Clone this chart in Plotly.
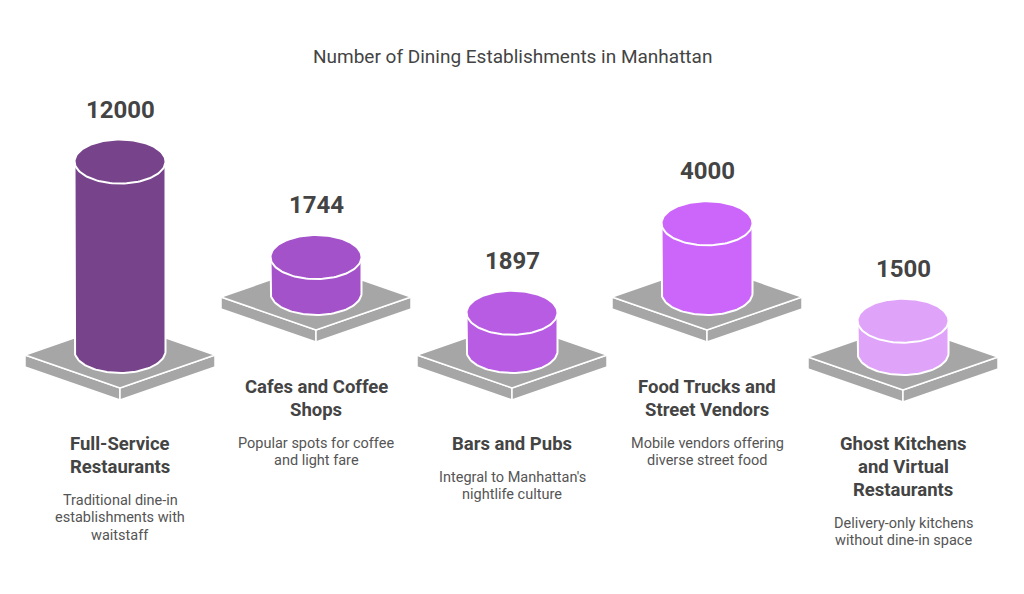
import numpy as np
import plotly.graph_objects as go

# ---------------- data ----------------
categories = ["Full-Service<br>Restaurants", "Cafes and Coffee<br>Shops", "Bars and Pubs",
              "Food Trucks and<br>Street Vendors", "Ghost Kitchens<br>and Virtual<br>Restaurants"]
values = [12000, 1744, 1897, 4000, 1500]
descriptions = ["Traditional dine-in<br>establishments with<br>waitstaff",
                "Popular spots for coffee<br>and light fare",
                "Integral to Manhattan's<br>nightlife culture",
                "Mobile vendors offering<br>diverse street food",
                "Delivery-only kitchens<br>without dine-in space"]
title_text = "Number of Dining Establishments in Manhattan"

# ---------------- style / layout ----------------
colors = ["#77448B", "#A452C9", "#B85CE3", "#CC66FA", "#E0A3FA"]
col_x = [120, 316, 512, 707, 903]          # column centers (px)
plat_y = [355, 297, 355, 297, 357]         # platform centers (px, from top)
name_first_y = [444, 387, 444, 387, 444]   # first line of category name (px)
NAME_LH, DESC_LH, DESC_GAP = 23, 17.5, 33
W, H, T = 95, 33, 12                       # platform half width, half height, thickness
RX, RY = 45.5, 22                          # cylinder ellipse radii (px)
PX_PER_UNIT = 0.01497                      # vertical scale: px per establishment
U = 1 / PX_PER_UNIT                        # units per px
STUB = 9.85 * U                            # minimum cylinder height
WIDTH, HEIGHT = 1024, 594
GRAY = "#A6A6A6"
TEXT = "#444444"
FONT = "Roboto"


def Y(px):
    """convert a layout pixel row to y-axis units"""
    return (HEIGHT - px) * U


fig = go.Figure()


def poly(xs, ys, fill, lw=1.5):
    fig.add_trace(go.Scatter(x=list(xs) + [xs[0]], y=list(ys) + [ys[0]], mode="lines",
                             fill="toself", fillcolor=fill,
                             line=dict(color="white", width=lw),
                             hoverinfo="skip", showlegend=False))


def text_line(x, py, txt, size, color, bold=False):
    fig.add_annotation(x=x, y=1 - py / HEIGHT, xref="x", yref="paper",
                       text=f"<b>{txt}</b>" if bold else txt, showarrow=False,
                       yanchor="middle", xanchor="center",
                       font=dict(family=FONT, size=size, color=color))


for i, v in enumerate(values):
    cx, pc = col_x[i], plat_y[i]
    # platform side faces
    poly([cx - W, cx, cx, cx - W], [Y(pc), Y(pc + H), Y(pc + H + T), Y(pc + T)], GRAY)
    poly([cx, cx + W, cx + W, cx], [Y(pc + H), Y(pc), Y(pc + T), Y(pc + H + T)], GRAY)
    # platform top face
    poly([cx - W, cx, cx + W, cx], [Y(pc), Y(pc + H), Y(pc), Y(pc - H)], GRAY)

    # cylinder
    base = Y(pc - 4)
    top = base + STUB + v
    ry = RY * U
    t = np.linspace(np.pi, 0, 60)
    xs = [cx - RX] + list(cx + RX * np.cos(t)) + [cx + RX]
    ys = [top] + list(base - ry * np.sin(t)) + [top]
    poly(xs, ys, colors[i], 2)
    tt = np.linspace(0, 2 * np.pi, 120)
    poly(list(cx + RX * np.cos(tt)), list(top + ry * np.sin(tt)), colors[i], 2)

    # value label
    fig.add_annotation(x=cx, y=top + 52 * U, xref="x", yref="y", text=f"<b>{v}</b>",
                       showarrow=False, yanchor="middle",
                       font=dict(family=FONT, size=24, color=TEXT))

    # category name, line by line
    name_lines = categories[i].split("<br>")
    for k, ln in enumerate(name_lines):
        text_line(cx, name_first_y[i] + k * NAME_LH, ln, 18.5, TEXT, bold=True)
    # description, line by line
    d_first = name_first_y[i] + (len(name_lines) - 1) * NAME_LH + DESC_GAP
    for k, ln in enumerate(descriptions[i].split("<br>")):
        text_line(cx, d_first + k * DESC_LH, ln, 14.5, "#555555")

text_line(512, 57, title_text, 19, TEXT)

fig.update_layout(width=WIDTH, height=HEIGHT, autosize=False,
                  margin=dict(l=0, r=0, t=0, b=0),
                  paper_bgcolor="white", plot_bgcolor="white",
                  xaxis=dict(range=[0, WIDTH], visible=False, fixedrange=True),
                  yaxis=dict(range=[0, HEIGHT * U], visible=False, fixedrange=True),
                  showlegend=False)

fig.write_html("out.html")
